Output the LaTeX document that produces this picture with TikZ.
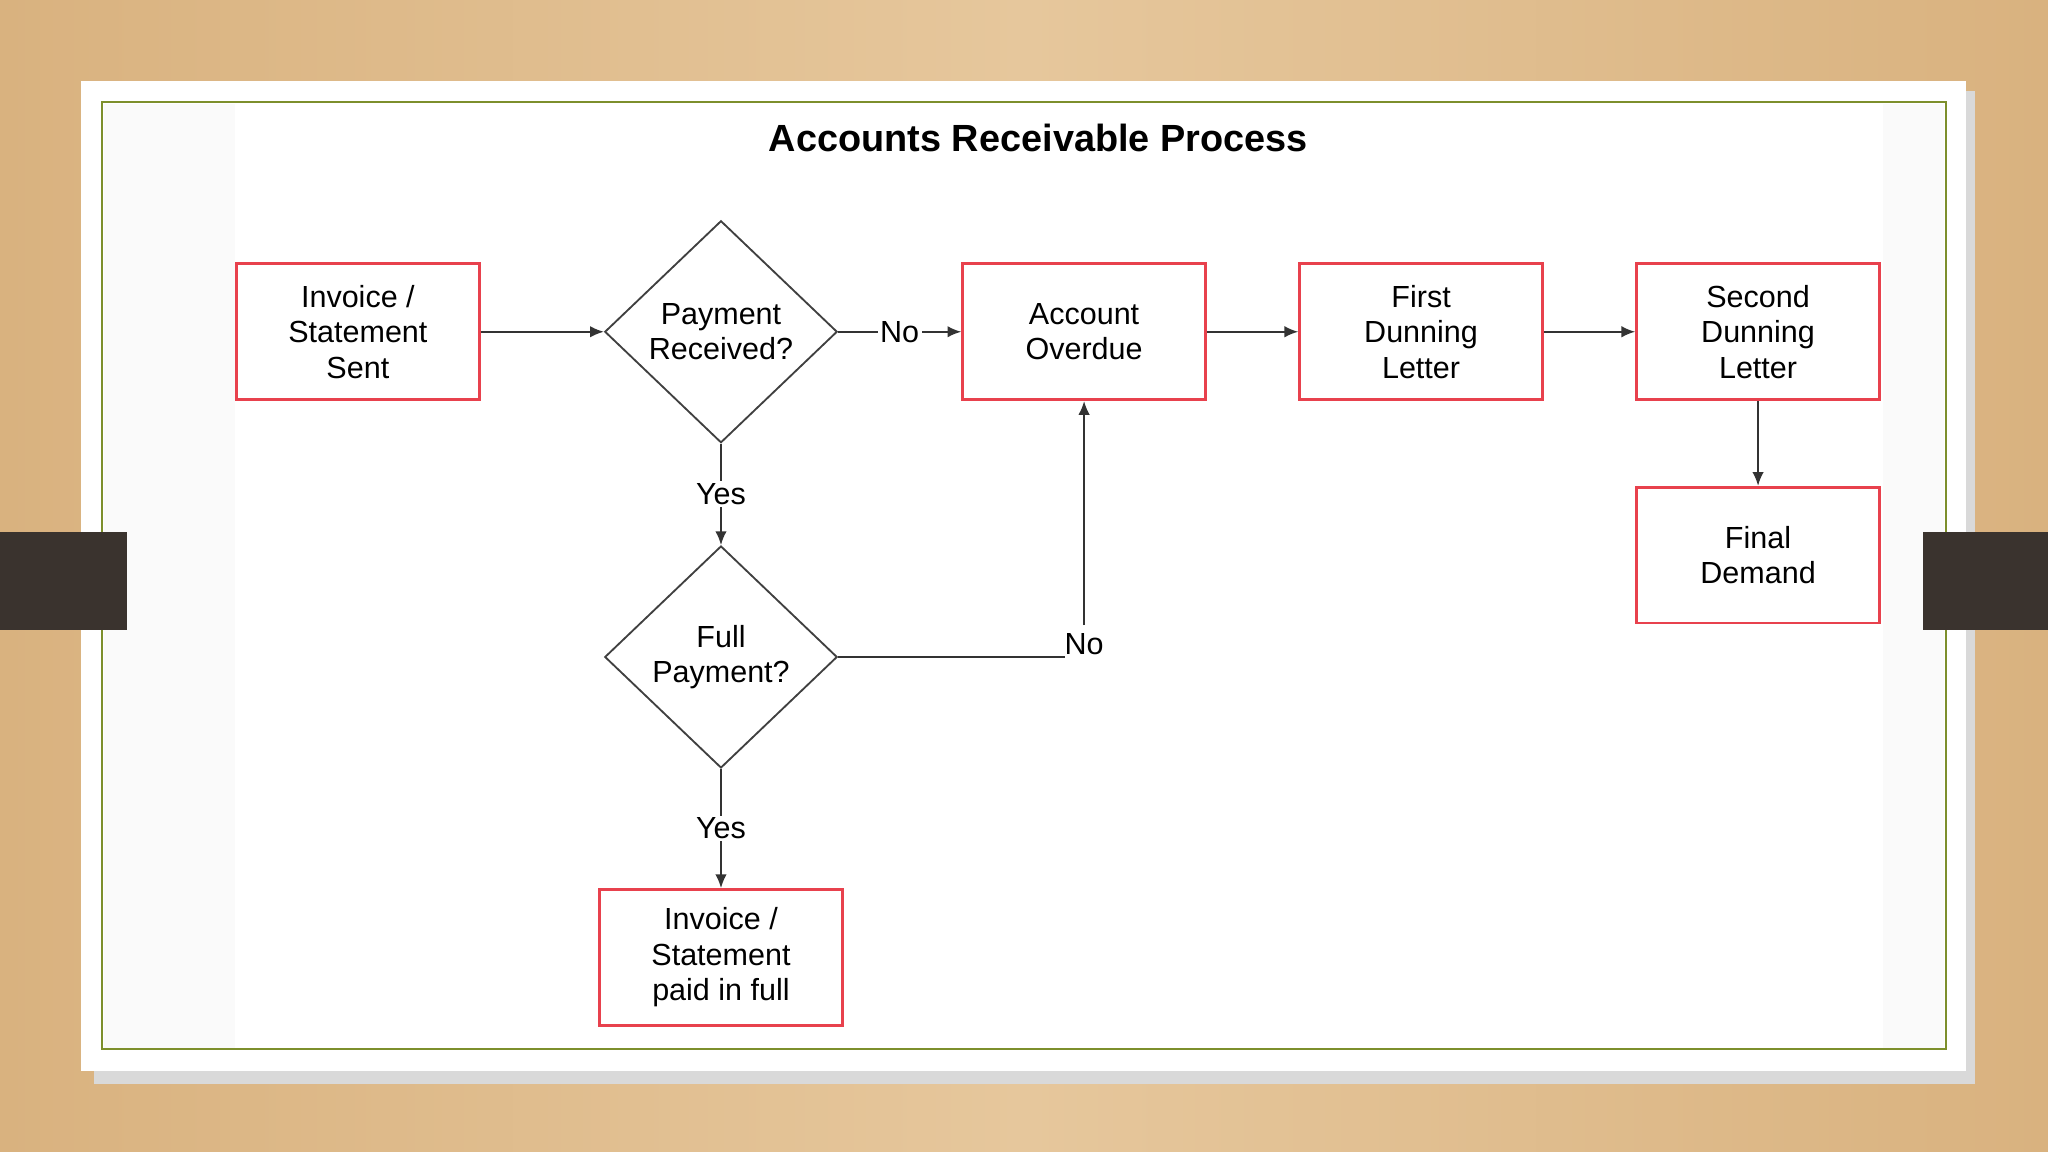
\documentclass[tikz,border=0pt]{standalone}
\usepackage{fontspec}
\setmainfont{Liberation Sans}
\usetikzlibrary{shapes.geometric,arrows.meta}
\definecolor{wood}{HTML}{E6C79C}
\definecolor{woodd}{HTML}{D9B27F}
\definecolor{olive}{HTML}{7D8F2C}
\definecolor{boxred}{HTML}{E8414D}
\definecolor{tab}{HTML}{3A332E}
\begin{document}
\begin{tikzpicture}[x=0.02cm,y=-0.02cm,
  box/.style={draw=boxred,line width=1.2pt,fill=white,minimum width=3.72cm,minimum height=2.08cm,align=center,inner sep=0pt,font=\fontsize{13.3}{15.5}\selectfont},
  dia/.style={draw=black!75,line width=0.8pt,fill=white,diamond,minimum width=3.56cm,minimum height=3.4cm,align=center,inner sep=0pt,font=\fontsize{13.3}{15.5}\selectfont},
  lab/.style={fill=white,inner sep=1pt,font=\fontsize{13.3}{15}\selectfont},
  arr/.style={draw=black!80,line width=0.8pt,-{Latex[length=6pt,width=5pt]}},
  ln/.style={draw=black!80,line width=0.8pt}]
\useasboundingbox (0,0) rectangle (1568,882);
\shade[left color=woodd,right color=woodd,middle color=wood] (0,0) rectangle (1568,882);
\fill[black!15] (72,70) rectangle (1512,830);
\fill[white] (62,62) rectangle (1505,820);
\fill[black!2] (80,80) rectangle (180,802);
\fill[black!2] (1442,80) rectangle (1488,802);
\draw[olive,line width=1pt] (78,78) rectangle (1490,803);
\fill[tab] (0,407) rectangle (97,482);
\fill[tab] (1472,407) rectangle (1568,482);
\node[font=\bfseries\fontsize{16.5}{18}\selectfont] (title) at (795,106) {Accounts Receivable Process};
\node[box] (inv) at (274,254) {Invoice /\\Statement\\Sent};
\node[dia] (pay) at (552,254) {Payment\\Received?};
\node[box] (ovd) at (830,254) {Account\\Overdue};
\node[box] (fdl) at (1088,254) {First\\Dunning\\Letter};
\node[box] (sdl) at (1346,254) {Second\\Dunning\\Letter};
\node[box] (fin) at (1346,425) {Final\\Demand};
\node[dia] (full) at (552,503) {Full\\Payment?};
\node[box] (paid) at (552,733) {Invoice /\\Statement\\paid in full};
\draw[arr] (inv) -- (pay);
\draw[arr] (pay) -- node[lab]{No} (ovd);
\draw[arr] (ovd) -- (fdl);
\draw[arr] (fdl) -- (sdl);
\draw[arr] (sdl) -- (fin);
\draw[arr] (pay) -- node[lab]{Yes} (full);
\draw[arr] (full) -- node[lab]{Yes} (paid);
\draw[ln] (full.east) -- (815,503);
\node[font=\fontsize{13.3}{15}\selectfont] (no2) at (830,493) {No};
\draw[arr] (no2.north) -- (ovd.south);
\end{tikzpicture}
\end{document}
